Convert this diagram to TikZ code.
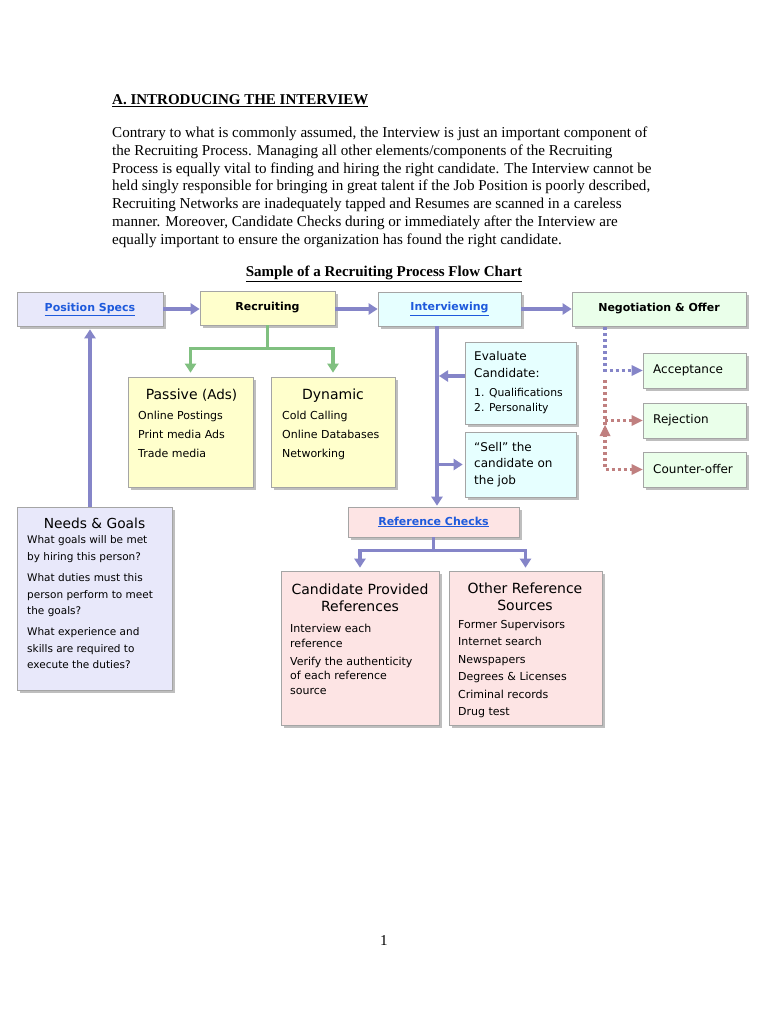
\documentclass[tikz,border=0pt]{standalone}
\usepackage{fontspec}
\setmainfont{Liberation Serif}
\newfontfamily\vf{DejaVu Sans}
\usetikzlibrary{arrows.meta,shadows}
\definecolor{lav}{RGB}{232,232,250}
\definecolor{yel}{RGB}{255,255,204}
\definecolor{cya}{RGB}{230,255,255}
\definecolor{grn}{RGB}{234,255,234}
\definecolor{pnk}{RGB}{253,228,228}
\definecolor{parr}{RGB}{133,133,200}
\definecolor{garr}{RGB}{128,192,128}
\definecolor{rarr}{RGB}{192,128,128}
\definecolor{bord}{RGB}{165,165,165}
\definecolor{lnk}{RGB}{30,90,220}
\tikzset{
  box/.style={draw=bord, line width=0.7pt, inner sep=0pt,
    drop shadow={shadow xshift=3pt, shadow yshift=-3pt, fill=black!28, opacity=0.9}},
  parrow/.style={draw=parr, line width=3.5pt, -{Triangle[length=9pt,width=11pt]}},
  garrow/.style={draw=garr, line width=3.5pt, -{Triangle[length=9pt,width=11pt]}},
  pdots/.style={draw=parr, line width=3.5pt, dash pattern=on 3pt off 3pt},
  rdots/.style={draw=rarr, line width=3.5pt, dash pattern=on 3pt off 3pt},
  body/.style={font=\fontsize{15.1}{18}\selectfont, inner sep=0pt, anchor=base west},
  item/.style={font=\vf\fontsize{11}{13}\selectfont, inner sep=0pt, anchor=base west},
  nitem/.style={font=\vf\fontsize{10.5}{13}\selectfont, inner sep=0pt, anchor=base west},
  ttl/.style={font=\vf\fontsize{14}{16}\selectfont, inner sep=0pt, anchor=base},
  big/.style={font=\vf\fontsize{12}{14}\selectfont, inner sep=0pt, anchor=base west},
  lbl/.style={font=\vf\bfseries\fontsize{11}{13}\selectfont, inner sep=0pt},
  lnklbl/.style={lbl, text=lnk},
  opt/.style={font=\vf\fontsize{12}{14}\selectfont, inner sep=0pt, anchor=west},
}
\begin{document}
\begin{tikzpicture}[x=1pt,y=-1pt]
\useasboundingbox (0,0) rectangle (768,1024);
\fill[white] (0,0) rectangle (768,1024);

% ---- heading and paragraph
\node[body, font=\bfseries\fontsize{15}{18}\selectfont] (head) at (112,104.5) {\underline{A. INTRODUCING THE INTERVIEW}};
\foreach \t [count=\i] in {
  {Contrary to what is commonly assumed, the Interview is just an important component of},
  {the Recruiting Process. Managing all other elements/components of the Recruiting},
  {Process is equally vital to finding and hiring the right candidate. The Interview cannot be},
  {held singly responsible for bringing in great talent if the Job Position is poorly described,},
  {Recruiting Networks are inadequately tapped and Resumes are scanned in a careless},
  {manner. Moreover, Candidate Checks during or immediately after the Interview are},
  {equally important to ensure the organization has found the right candidate.}}
  {\node[body] (par\i) at (112,137.5+17.8*\i-17.8) {\t};}
\node[body, anchor=base, font=\bfseries\fontsize{15}{18}\selectfont] (caption) at (384,276.5) {\underline{Sample of a Recruiting Process Flow Chart}};

% ---- top row boxes
\node[box, fill=lav, minimum width=146pt, minimum height=34pt] (ps) at (90,309) {};
\node[lnklbl] (pst) at (ps) {\underline{Position Specs}};
\node[box, fill=yel, minimum width=135pt, minimum height=34pt] (rec) at (267.5,308) {};
\node[lbl] (rect) at (rec) {Recruiting};
\node[box, fill=cya, minimum width=143pt, minimum height=34pt] (int) at (449.5,309) {};
\node[lnklbl] (intt) at (int) {\underline{Interviewing}};
\node[box, fill=grn, minimum width=174pt, minimum height=34pt] (neg) at (659,309) {};
\node[lbl] (negt) at (neg) {Negotiation \& Offer};

% ---- recruiting children
\node[box, fill=yel, minimum width=125pt, minimum height=110pt] (pas) at (190.5,432) {};
\node[ttl] (past) at (191.5,399) {Passive {\fontsize{13.5}{16}\selectfont(Ads)}};
\foreach \y/\t [count=\i] in {419/Online Postings, 438/Print media Ads, 457/Trade media}
  {\node[item] (pasi\i) at (138,\y) {\t};}
\node[box, fill=yel, minimum width=124pt, minimum height=110pt] (dyn) at (333,432) {};
\node[ttl] (dynt) at (333,399) {Dynamic};
\foreach \y/\t [count=\i] in {419/Cold Calling, 438/Online Databases, 457/Networking}
  {\node[item] (dyni\i) at (282,\y) {\t};}

% ---- needs & goals
\node[box, fill=lav, minimum width=155pt, minimum height=183pt] (need) at (94.5,598.5) {};
\node[ttl, font=\vf\fontsize{13.8}{16}\selectfont] (needt) at (94.5,528) {Needs \& Goals};
\foreach \y/\t [count=\i] in {543.8/What goals will be met, 560.8/by hiring this person?,
  581.8/What duties must this, 598.8/person perform to meet, 614.8/the goals?,
  635.8/What experience and, 652.8/skills are required to, 668.8/execute the duties?}
  {\node[nitem] (needi\i) at (27,\y) {\t};}

% ---- interviewing side boxes
\node[box, fill=cya, minimum width=111pt, minimum height=82pt] (eval) at (520.5,383) {};
\node[big] (evt1) at (474,360.5) {Evaluate};
\node[big] (evt2) at (474,377.5) {Candidate:};
\node[item, font=\vf\fontsize{10.8}{13}\selectfont] (evt3) at (474,396) {1. Qualifications};
\node[item, font=\vf\fontsize{10.8}{13}\selectfont] (evt4) at (474,411) {2. Personality};
\node[box, fill=cya, minimum width=111pt, minimum height=65pt] (sell) at (520.5,464.5) {};
\foreach \y/\t [count=\i] in {451.5/{“Sell” the}, 467.5/candidate on, 484.5/the job}
  {\node[big] (sellt\i) at (474,\y) {\t};}

% ---- reference checks
\node[box, fill=pnk, minimum width=171pt, minimum height=30pt] (ref) at (433.5,522) {};
\node[lnklbl] (reft) at (ref) {\underline{Reference Checks}};
\node[box, fill=pnk, minimum width=158pt, minimum height=154pt] (cand) at (360,648) {};
\node[ttl] (candt1) at (360,594) {Candidate Provided};
\node[ttl] (candt2) at (360,611) {References};
\foreach \y/\t [count=\i] in {632/Interview each, 647/reference, 665/Verify the authenticity,
  679/of each reference, 694/source}
  {\node[item] (candi\i) at (290,\y) {\t};}
\node[box, fill=pnk, minimum width=153pt, minimum height=154pt] (oth) at (525.5,648) {};
\node[ttl] (otht1) at (525,593) {Other Reference};
\node[ttl] (otht2) at (525,610) {Sources};
\foreach \y/\t [count=\i] in {628/Former Supervisors, 645/Internet search, 663/Newspapers,
  680/Degrees \& Licenses, 698/Criminal records, 715/Drug test}
  {\node[item] (othi\i) at (458,\y) {\t};}

% ---- offer outcomes
\node[box, fill=grn, minimum width=103pt, minimum height=35pt] (acc) at (694.5,370.5) {};
\node[opt] (acct) at (653,370.5) {Acceptance};
\node[box, fill=grn, minimum width=103pt, minimum height=35pt] (rej) at (694.5,420.5) {};
\node[opt] (rejt) at (653,420.5) {Rejection};
\node[box, fill=grn, minimum width=103pt, minimum height=35pt] (cou) at (694.5,469.5) {};
\node[opt] (cout) at (653,469.5) {Counter-offer};

% ---- connectors
\draw[parrow] (ps.east) -- (ps.east -| rec.west);
\draw[parrow] (rec.east |- int.west) -- (int.west);
\draw[parrow] (int.east) -- (neg.west);
\draw[garrow, shorten >=4pt] (rec.south) -- ++(0,23) -| (pas.north);
\draw[garrow, shorten >=4pt] (rec.south) -- ++(0,23) -| (dyn.north);
\draw[parrow, shorten >=3pt] (need.north -| ps.south) -- (ps.south);
\coordinate (iv) at (437,326);
\draw[parrow, shorten >=1pt] (iv) -- (iv |- ref.north);
\coordinate (ev) at (465,376);
\draw[parrow, shorten >=2pt] (ev) -- (ev -| iv);
\draw[parrow, shorten >=2pt] (sell.west -| iv) -- (sell.west);
\draw[parrow, shorten >=3pt] (ref.south) -- ++(0,13) -| (cand.north);
\draw[parrow, shorten >=3pt] (ref.south) -- ++(0,13) -| (oth.north);
\coordinate (nd) at (605,327);
\coordinate (rd) at (605,380);
\draw[pdots] (nd) |- ([xshift=-10pt]acc.west);
\fill[parr] (acc.west) -- ++(-11,-5.5) -- ++(0,11) -- cycle;
\draw[rdots] (rd) |- ([xshift=-10pt]cou.west);
\draw[rdots] (rd |- rej.west) -- ([xshift=-10pt]rej.west);
\fill[rarr] (cou.west) -- ++(-11,-5.5) -- ++(0,11) -- cycle;
\fill[rarr] (rej.west) -- ++(-11,-5.5) -- ++(0,11) -- cycle;
\fill[rarr] (605,425) -- ++(-5.5,11) -- ++(11,0) -- cycle;

% ---- page number
\node[body, anchor=base] (pg) at (384,945) {1};
\end{tikzpicture}
\end{document}
